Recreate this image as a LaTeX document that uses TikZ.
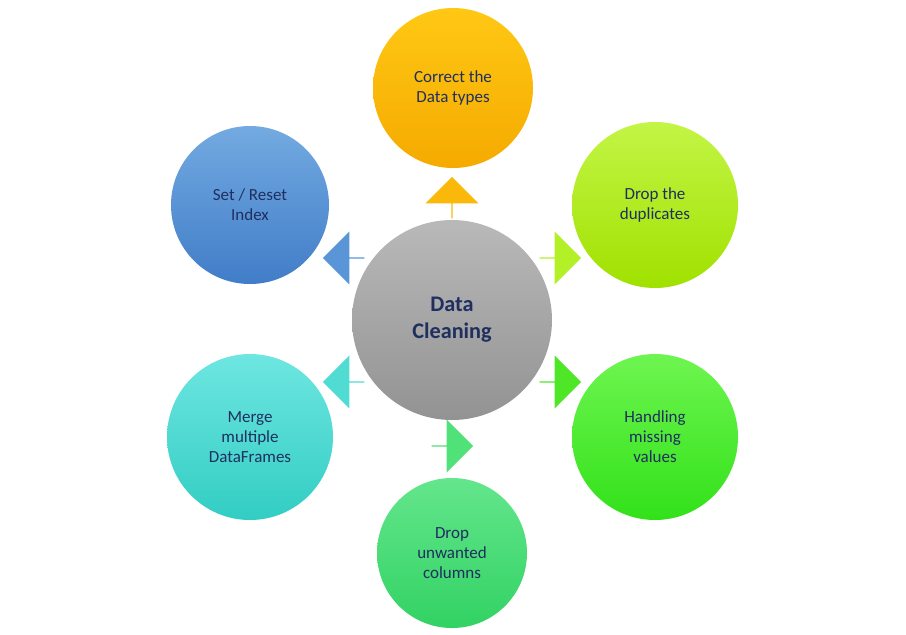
\documentclass[tikz,border=0pt]{standalone}
\usepackage{fontspec}
\setmainfont{Carlito}
\usetikzlibrary{shapes.arrows}
\definecolor{txt}{HTML}{1F2F5F}
\begin{document}
\begin{tikzpicture}[x=0.03cm,y=-0.03cm,
  bub/.style={circle,minimum size=#1*0.06cm,inner sep=0pt,align=center,text=txt,font=\fontsize{14.5}{17}\selectfont},
  arr/.style={single arrow,minimum height=1.25cm,minimum width=1.6cm,single arrow head extend=0.25cm,inner sep=0pt,shape border rotate=#1}]
\useasboundingbox (0,0) rectangle (906,634);
\node[bub=100,top color=gray!55,bottom color=gray!85,font=\fontsize{19}{23}\bfseries\selectfont] (c) at (452,320) {Data\\Cleaning};
\node[bub=80,top color={rgb,255:red,255;green,200;blue,20},bottom color={rgb,255:red,245;green,170;blue,0}] (t) at (453,88) {Correct the\\Data types};
\node[bub=83,top color={rgb,255:red,195;green,245;blue,70},bottom color={rgb,255:red,160;green,225;blue,0}] (tr) at (655,205) {Drop the\\duplicates};
\node[bub=83,top color={rgb,255:red,110;green,245;blue,80},bottom color={rgb,255:red,50;green,225;blue,25}] (br) at (655,437) {Handling\\missing\\values};
\node[bub=75,top color={rgb,255:red,100;green,230;blue,140},bottom color={rgb,255:red,50;green,210;blue,100}] (b) at (452,553) {Drop\\unwanted\\columns};
\node[bub=83,top color={rgb,255:red,110;green,230;blue,225},bottom color={rgb,255:red,50;green,205;blue,195}] (bl) at (250,437) {Merge\\multiple\\DataFrames};
\node[bub=79,top color={rgb,255:red,115;green,170;blue,225},bottom color={rgb,255:red,65;green,125;blue,200}] (tl) at (250,205) {Set / Reset\\Index};
\node[arr=90,fill={rgb,255:red,250;green,185;blue,10}] (a1) at (452,198) {};
\node[arr=30,fill={rgb,255:red,180;green,240;blue,40}] (a2) at (560,258) {};
\node[arr=-30,fill={rgb,255:red,80;green,230;blue,40}] (a3) at (560,382) {};
\node[arr=-90,fill={rgb,255:red,80;green,225;blue,120}] (a4) at (452,446) {};
\node[arr=210,fill={rgb,255:red,80;green,220;blue,210}] (a5) at (344,382) {};
\node[arr=150,fill={rgb,255:red,90;green,150;blue,215}] (a6) at (344,258) {};
\end{tikzpicture}
\end{document}
